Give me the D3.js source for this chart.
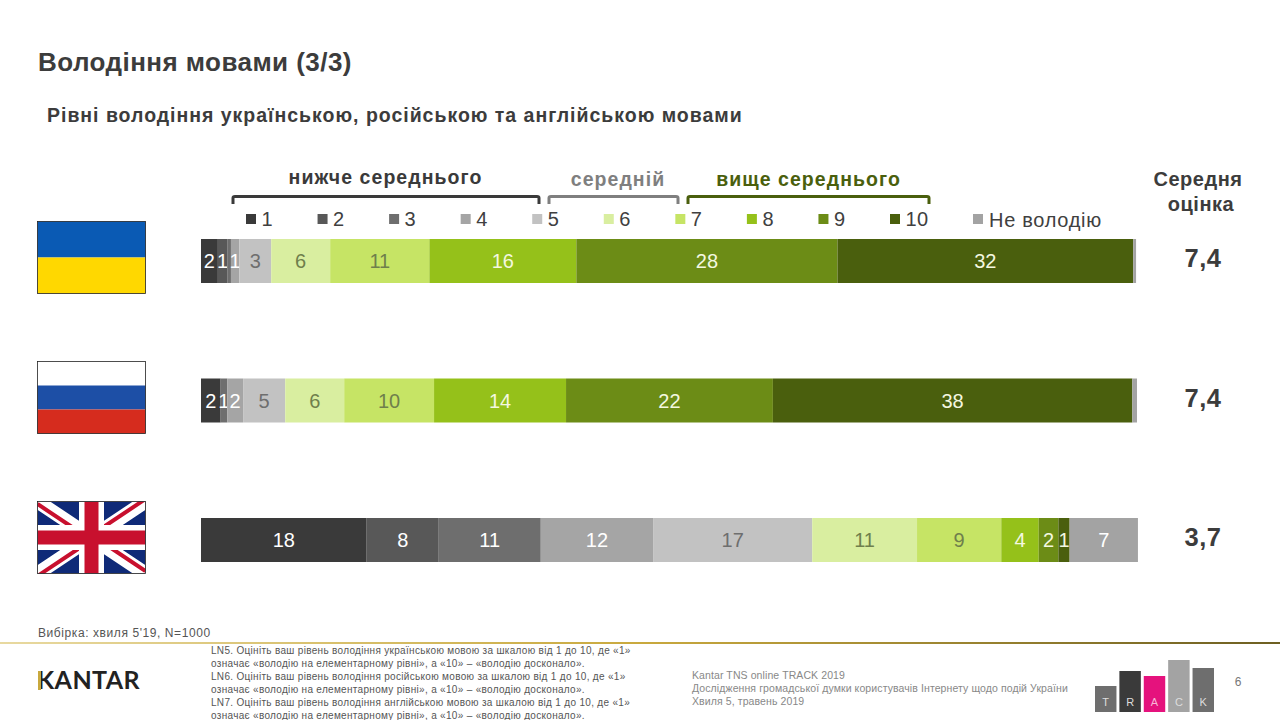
<!DOCTYPE html>
<html>
<head>
<meta charset="utf-8">
<script src="https://cdn.jsdelivr.net/npm/d3@7"></script>
<style>
    html, body { margin: 0; padding: 0; background: #fff; }
    text { font-family: "Liberation Sans", Arial, sans-serif; }
</style>
</head>
<body>
<div id="chart"></div>
<script>
const languages = ["uk", "ru", "en"];
const grades = ["1", "2", "3", "4", "5", "6", "7", "8", "9", "10", "Не володію"];
const gradeColors = ["#3a3a3a", "#585858", "#6e6e6e", "#a5a5a5", "#c2c2c2", "#d9eea0", "#c6e465", "#95c11a", "#6c8c16", "#4a5f0d", "#a3a3a3"];
const labelColors = ["#fff", "#fff", "#fff", "#fff", "#6e6e6e", "#6f7f4c", "#6f7f4c", "#f4f8e0", "#f4f8e0", "#f4f8e0", "#fff"];

const ukValues = [1.8, 1.0, 0.4, 0.9, 3.4, 6.3, 10.6, 15.7, 27.9, 31.6, 0.3];
const ruValues = [2.1, 0, 0.7, 1.7, 4.5, 6.3, 9.6, 14.1, 22.1, 38.4, 0.5];
const enValues = [17.7, 7.7, 10.9, 12.0, 17.0, 11.2, 9.0, 4.0, 2.1, 1.2, 7.3];
const meanScores = ["7,4", "7,4", "3,7"];

const groups = [
    { name: "нижче середнього", color: "#3a3a3a", x: 385.5, y: 184, x0: 233, x1: 539 },
    { name: "середній", color: "#7f7f7f", x: 618, y: 186, x0: 549, x1: 678 },
    { name: "вище середнього", color: "#4a5f0d", x: 808.5, y: 186, x0: 688, x1: 929 }
];

const notes = [
    "LN5.  Оцініть ваш рівень володіння українською мовою за шкалою від 1 до 10, де «1»",
    "означає «володію на елементарному рівні», а «10» –  «володію досконало».",
    "LN6.  Оцініть ваш рівень володіння російською мовою за шкалою від 1 до 10, де «1»",
    "означає «володію на елементарному рівні», а «10» –  «володію досконало».",
    "LN7.  Оцініть ваш рівень володіння англійською мовою за шкалою від 1 до 10, де «1»",
    "означає «володію на елементарному рівні», а «10» –  «володію досконало»."
];
const sourceLines = [
    "Kantar TNS online TRACK 2019",
    "Дослідження громадської думки користувачів Інтернету щодо подій України",
    "Хвиля 5, травень 2019"
];
const trackLetters = ["T", "R", "A", "C", "K"];
const trackHeights = [26, 41, 36, 52, 44];
const trackColors = ["#6e6e6e", "#3a3a3a", "#e5127d", "#a3a3a3", "#6e6e6e"];

const table = [ukValues, ruValues, enValues].map((values, i) => {
    const row = { language: languages[i] };
    grades.forEach((g, j) => { row[g] = values[j]; });
    return row;
});

const svg = d3.select("#chart")
    .append("svg")
    .attr("width", 1280)
    .attr("height", 720)
    .style("display", "block");

function addText(x, y, str, size, color, opts) {
    const o = opts || {};
    return svg.append("text")
        .attr("x", x)
        .attr("y", y)
        .attr("font-size", size + "px")
        .attr("fill", color)
        .attr("font-weight", o.weight || "normal")
        .attr("text-anchor", o.anchor || "start")
        .attr("letter-spacing", o.spacing || 0)
        .text(str);
}

// headings
addText(38, 71, "Володіння мовами (3/3)", 26, "#3c3c3c", { weight: "bold", spacing: 0.45 });
addText(47, 122, "Рівні володіння українською, російською та англійською мовами", 19.5, "#3c3c3c", { weight: "bold", spacing: 0.98 });

// scales
const x = d3.scaleLinear().domain([0, 100]).range([201, 1137]);
const y = d3.scaleBand().domain(languages).range([239, 562]).paddingInner(0.6846);

// stacked bars
const series = d3.stack().keys(grades)(table);

const layers = svg.append("g")
    .selectAll("g")
    .data(series)
    .join("g")
    .attr("fill", (d, i) => gradeColors[i]);

layers.selectAll("rect")
    .data(d => d)
    .join("rect")
    .attr("x", d => x(d[0]))
    .attr("y", d => y(d.data.language))
    .attr("width", d => x(d[1]) - x(d[0]))
    .attr("height", y.bandwidth());

// values under 0.6 have no label in the original
layers.each(function(s, i) {
    d3.select(this).selectAll("text")
        .data(s.filter(d => d[1] - d[0] >= 0.6))
        .join("text")
        .attr("x", d => x((d[0] + d[1]) / 2))
        .attr("y", d => y(d.data.language) + y.bandwidth() / 2 + 7)
        .attr("text-anchor", "middle")
        .attr("font-size", "20px")
        .attr("fill", labelColors[i])
        .text(d => Math.round(d[1] - d[0]));
});

// legend
const legendX = d3.scaleLinear().domain([0, 9]).range([246, 890]);

grades.forEach((g, i) => {
    const lx = i < 10 ? legendX(i) : 973;
    svg.append("rect")
        .attr("x", lx)
        .attr("y", 214)
        .attr("width", 10)
        .attr("height", 10)
        .attr("fill", gradeColors[i]);
    addText(lx + (i < 10 ? 15.5 : 16), i < 10 ? 226 : 227, g, 20, "#404040", { spacing: i < 10 ? 0.4 : 0.7 });
});

// brackets over the legend
groups.forEach(g => {
    addText(g.x, g.y, g.name, 19.5, g.color, { weight: "bold", anchor: "middle", spacing: 1.05 });
    svg.append("path")
        .attr("d", `M${g.x0},204 V198 Q${g.x0},196.5 ${g.x0 + 2},196.5 H${g.x1 - 2} Q${g.x1},196.5 ${g.x1},198 V204`)
        .attr("fill", "none")
        .attr("stroke", g.color)
        .attr("stroke-width", 3);
});

// mean scores
addText(1198, 186, "Середня", 20, "#3c3c3c", { weight: "bold", anchor: "middle", spacing: 0.55 });
addText(1201, 211, "оцінка", 20, "#3c3c3c", { weight: "bold", anchor: "middle", spacing: 0.55 });

languages.forEach((l, i) => {
    addText(1203, y(l) + y.bandwidth() / 2 + 6, meanScores[i], 25.5, "#3c3c3c", { weight: "bold", anchor: "middle", spacing: 0.6 });
});

// flags
const flagW = 108, flagH = 72;
const defs = svg.append("defs");

function flagGroup(top) {
    return svg.append("g").attr("transform", `translate(37.5,${top})`);
}

function flagBorder(g) {
    g.append("rect")
        .attr("width", flagW)
        .attr("height", flagH)
        .attr("fill", "none")
        .attr("stroke", "#222")
        .attr("stroke-width", 0.8);
}

const ukFlag = flagGroup(221.5);
ukFlag.append("rect").attr("width", flagW).attr("height", flagH / 2).attr("fill", "#0a5ab4");
ukFlag.append("rect").attr("y", flagH / 2).attr("width", flagW).attr("height", flagH / 2).attr("fill", "#ffd800");
flagBorder(ukFlag);

const ruFlag = flagGroup(361.5);
["#ffffff", "#1d4fa6", "#d62c1e"].forEach((c, i) => {
    ruFlag.append("rect").attr("y", i * flagH / 3).attr("width", flagW).attr("height", flagH / 3).attr("fill", c);
});
flagBorder(ruFlag);

defs.append("clipPath").attr("id", "gb-clip")
    .append("rect").attr("width", flagW).attr("height", flagH);

const gbFlag = flagGroup(501.5);
const gb = gbFlag.append("g").attr("clip-path", "url(#gb-clip)");
gb.append("rect").attr("width", flagW).attr("height", flagH).attr("fill", "#0f2a78");
gb.append("path")
    .attr("d", `M0,0 L${flagW},${flagH} M${flagW},0 L0,${flagH}`)
    .attr("stroke", "#fff")
    .attr("stroke-width", 14);
// red diagonals sit off-centre, turning around the middle of the flag
const cx = flagW / 2, cy = flagH / 2, shift = 2.5;
gb.append("path")
    .attr("d", `M0,${shift} L${cx},${cy + shift} M${flagW},${-shift} L${cx},${cy - shift} M0,${flagH + shift} L${cx},${cy + shift} M${flagW},${flagH - shift} L${cx},${cy - shift}`)
    .attr("stroke", "#c8102e")
    .attr("stroke-width", 4);
gb.append("rect").attr("x", cx - 12.5).attr("width", 25).attr("height", flagH).attr("fill", "#fff");
gb.append("rect").attr("y", cy - 12.5).attr("width", flagW).attr("height", 25).attr("fill", "#fff");
gb.append("rect").attr("x", cx - 7).attr("width", 14).attr("height", flagH).attr("fill", "#c8102e");
gb.append("rect").attr("y", cy - 7).attr("width", flagW).attr("height", 14).attr("fill", "#c8102e");
flagBorder(gbFlag);

// footer
addText(38, 637, "Вибірка: хвиля 5'19, N=1000", 12, "#555", { spacing: 0.58 });

const lineGradient = defs.append("linearGradient").attr("id", "footer-line");
lineGradient.append("stop").attr("offset", "0%").attr("stop-color", "#e8d9a0");
lineGradient.append("stop").attr("offset", "50%").attr("stop-color", "#c9a93e");
lineGradient.append("stop").attr("offset", "100%").attr("stop-color", "#6d5f22");

svg.append("rect")
    .attr("x", 0)
    .attr("y", 642)
    .attr("width", 1280)
    .attr("height", 2)
    .attr("fill", "url(#footer-line)");

// logo
addText(37, 689, "KANTAR", 25, "#222", { weight: "bold", spacing: 0.45 }).style("font-family", "Lato");
svg.append("rect").attr("x", 38).attr("y", 671).attr("width", 3).attr("height", 19).attr("fill", "#c9a93e");

notes.forEach((n, i) => {
    addText(211, 654 + i * 12.9, n, 10, "#555", { spacing: 0.31 });
});

sourceLines.forEach((s, i) => {
    addText(692, 679 + i * 13, s, 10.5, "#888", { spacing: 0.1 });
});

// TRACK logo
const trackX = d3.scaleBand().domain(trackLetters).range([1095, 1214]).paddingInner(0.12);
const trackY = d3.scaleLinear().domain([0, 52]).range([712, 660]);

trackLetters.forEach((l, i) => {
    svg.append("rect")
        .attr("x", trackX(l))
        .attr("y", trackY(trackHeights[i]))
        .attr("width", trackX.bandwidth())
        .attr("height", 712 - trackY(trackHeights[i]))
        .attr("fill", trackColors[i]);
    addText(trackX(l) + trackX.bandwidth() / 2, 706, l, 11, i === 2 ? "#f7b6d6" : "#ddd", { anchor: "middle" });
});

addText(1238, 686, "6", 12, "#777", { anchor: "middle" });
</script>
</body>
</html>
